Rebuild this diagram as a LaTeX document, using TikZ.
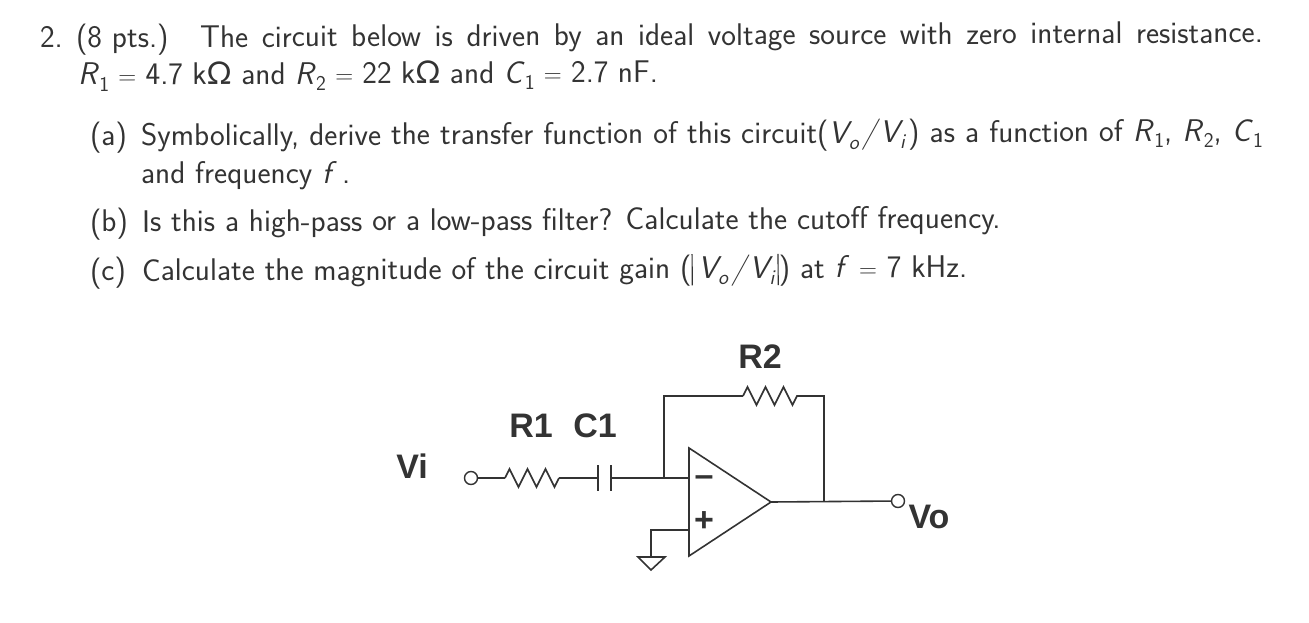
\documentclass[tikz,border=0pt]{standalone}
\usepackage{fontspec}
\usepackage{amssymb}
\newfontfamily\labelfont{Liberation Sans}
\newfontfamily\ohmfont{Lato}
\usetikzlibrary{positioning, calc, decorations.pathmorphing, shapes.geometric}
\renewcommand{\familydefault}{\sfdefault}
\newcommand{\sub}[1]{\raisebox{-0.2em}{\fontsize{21}{21}\selectfont #1}}
\newcommand{\sv}[2]{\textsl{#1}\sub{#2}}
\newcommand{\ohm}{{\ohmfont Ω}}
\newcommand{\bbar}{\raisebox{-0.22em}{\rule{1.2pt}{1em}}}
\newcommand{\ratio}{\textsl{V\kern0.02em}\sub{\textsl{o}}\kern0.08em\textsl{/\kern0.1em V\kern0.02em}\sub{\textsl{i}}\kern0.06em}
\definecolor{inkgray}{gray}{0.2}
\tikzset{txt/.style={anchor=base west, inner sep=0, outer sep=0, text=inkgray, rotate=0.25, font=\fontsize{31.3}{36}\selectfont\sffamily}}
\tikzset{lbl/.style={inner sep=0, outer sep=0, text=inkgray, font=\fontsize{34}{38}\selectfont\labelfont\bfseries}}
\tikzset{sgn/.style={inner sep=0, outer sep=0, text=inkgray, font=\fontsize{34}{34}\selectfont\labelfont\bfseries}}
\tikzset{wire/.style={draw=inkgray, line width=1.6pt}}
\tikzset{res/.style={wire, decorate, decoration={zigzag, segment length=18pt, amplitude=9pt}}}
\tikzset{term/.style={circle, draw=inkgray, line width=1.4pt, fill=white, minimum size=13pt, inner sep=0}}
\tikzset{oamp/.style={isosceles triangle, isosceles triangle stretches, draw=inkgray, line width=1.6pt, minimum width=108pt, minimum height=82pt, inner sep=0, outer sep=0}}
\begin{document}
\begin{tikzpicture}[x=1pt, y=-1pt]
	\useasboundingbox (0,0) rectangle (1309,623);
	% question text
	\node[txt] (num) at (40,48) {2.};
	\node[txt] (pts) at (76,48) {(8 pts.)};
	\node[txt] (l1) at (200,47.4) {\makebox[1063pt][s]{The circuit below is driven by an ideal voltage source with zero internal resistance.}};
	\node[txt] (l2) at (78,85) {\makebox[580pt][s]{\sv{R}{1} $=$ 4.7 k\ohm{} and \sv{R}{2} $=$ 22 k\ohm{} and \sv{C}{1} $=$ 2.7 nF.}};
	\node[txt] (a) at (90,146) {(a)};
	\node[txt] (la) at (141,146) {\makebox[1122pt][s]{Symbolically, derive the transfer function of this circuit(\ratio) as a function of \sv{R}{1}, \sv{R}{2}, \sv{C}{1}}};
	\node[txt] (lb2) at (141,184) {and frequency \textsl{f}\,.};
	\node[txt] (b) at (90,232) {(b)};
	\node[txt] (lb) at (142,232) {Is this a high-pass or a low-pass filter? Calculate the cutoff frequency.};
	\node[txt] (c) at (90,281) {(c)};
	\node[txt] (lc) at (142,281) {Calculate the magnitude of the circuit gain (\bbar\,\ratio\bbar) at \textsl{f} $=$ 7 kHz.};
	% circuit
	\node[oamp, anchor=apex] (U) at (771,502) {};
	\node[lbl] (vi) at (412,466) {Vi};
	\node[lbl] (vo) at (929,517) {Vo};
	\node[lbl] (r2) at (760,357) {R2};
	\node[lbl] (r1) at (531,426) {R1};
	\node[lbl] (c1) at (595,426) {C1};
	\node[sgn] (minus) at (704,481) {–};
	\node[sgn] (plus) at (704,522) {+};
	\node[term] (tin) at (471,478) {};
	\node[term] (tout) at (898,501) {};
	\coordinate (r1a) at (505,478);
	\coordinate (r1b) at (559,478);
	\coordinate (c1a) at (598,478);
	\coordinate (c1b) at (611,478);
	\coordinate (nm) at (689,478);
	\coordinate (np) at (689,530);
	\coordinate (jn) at (664,478);
	\coordinate (jt) at (664,396);
	\coordinate (r2a) at (743,396);
	\coordinate (r2b) at (799,396);
	\coordinate (jr) at (824,396);
	\coordinate (jo) at (824,502);
	\coordinate (gt) at (651,530);
	\coordinate (g) at (651,557);
	\draw[wire] (tin) -- (r1a);
	\draw[res] (r1a) -- (r1b);
	\draw[wire] (r1b) -- (c1a);
	\draw[wire] (c1a) ++(0,-13) -- ++(0,26);
	\draw[wire] (c1b) ++(0,-13) -- ++(0,26);
	\draw[wire] (c1b) -- (nm);
	\draw[wire] (jn) -- (jt) -- (r2a);
	\draw[res] (r2a) -- (r2b);
	\draw[wire] (r2b) -- (jr) -- (jo);
	\draw[wire] (U.apex) -- (tout);
	\draw[wire] (np) -- (gt) -- (g);
	\draw[wire] (g) ++(-13,0) -- ++(27,0) -- ++(-14,13) -- cycle;
\end{tikzpicture}
\end{document}
